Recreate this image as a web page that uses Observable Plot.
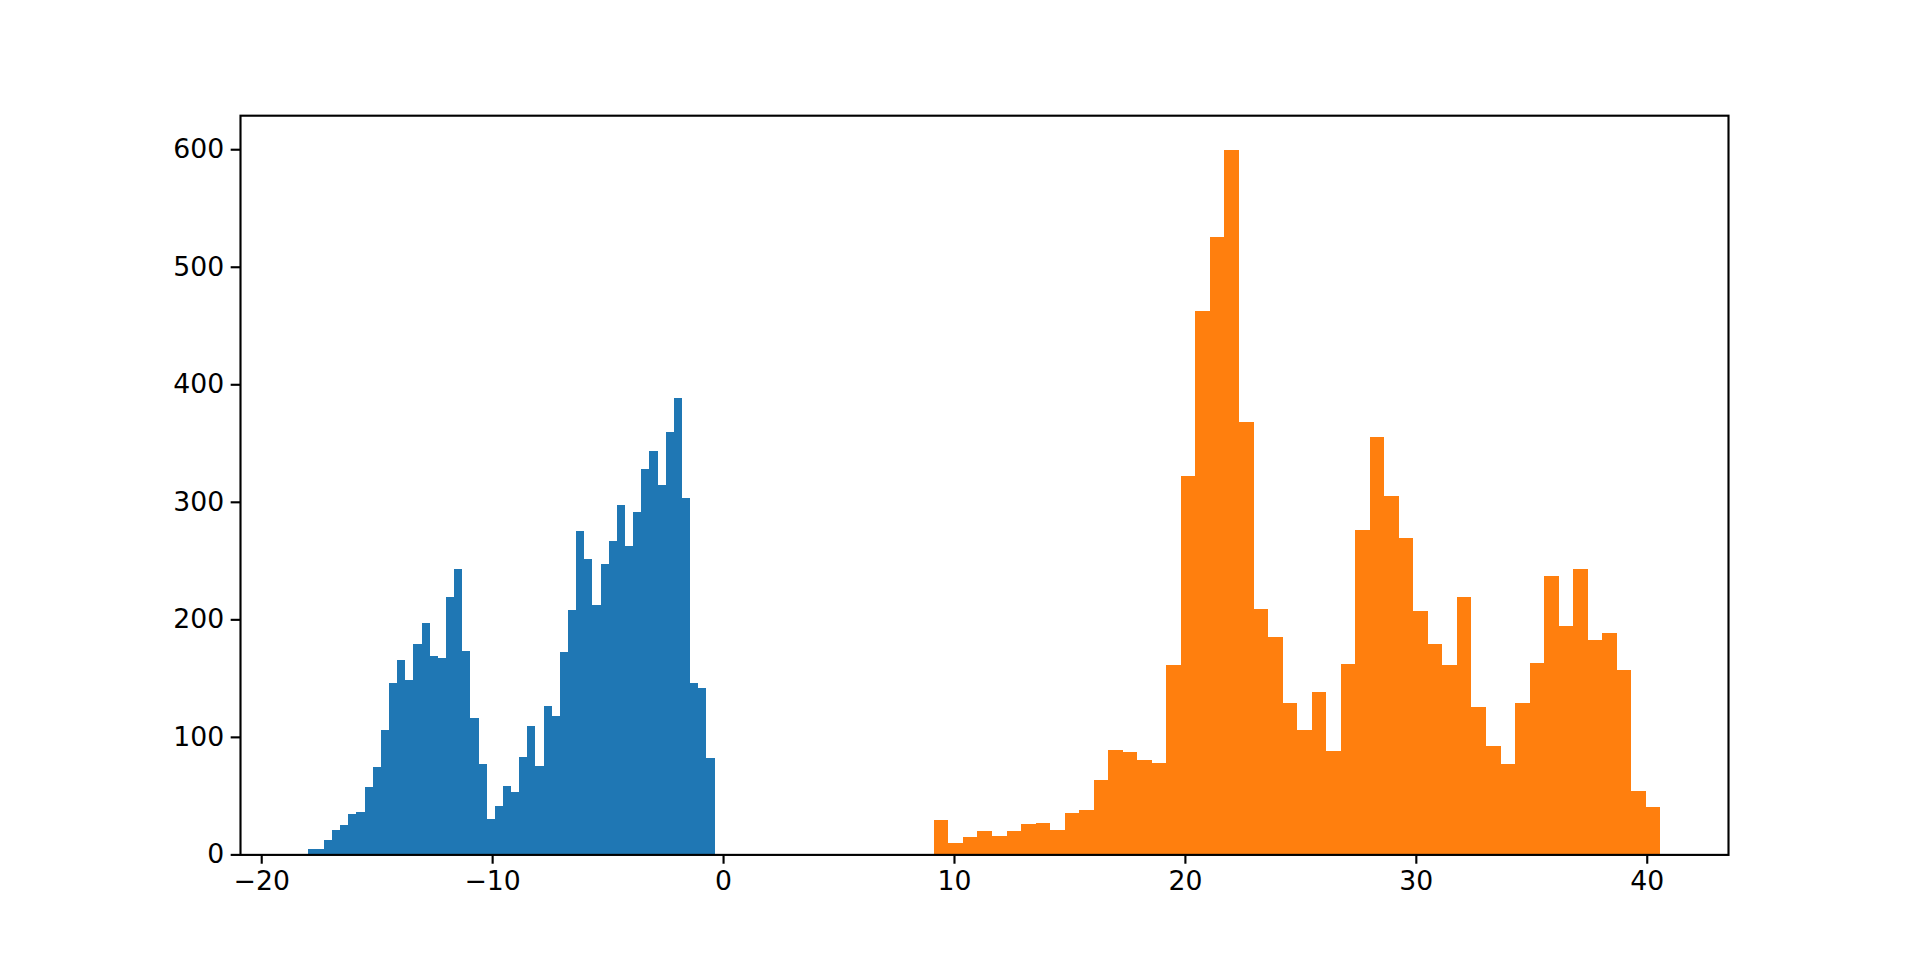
<!DOCTYPE html>
<html>
<head>
<meta charset="utf-8">
<script src="https://cdn.jsdelivr.net/npm/d3@7"></script>
<script src="https://cdn.jsdelivr.net/npm/@observablehq/plot@0.6"></script>
<style>
  html, body { margin: 0; padding: 0; background: #fff; }
  #chart svg { display: block; }
</style>
</head>
<body>
<div id="chart"></div>
<script>
// Histogram 1 (blue): 50 bins between these edges
const blueMin = -17.99;
const blueMax = -0.37;
const blueCounts = [
  5, 5, 12, 21, 25, 34, 36, 57, 74, 106,
  146, 165, 148, 179, 197, 169, 167, 219, 243, 173,
  116, 77, 30, 41, 58, 53, 83, 109, 75, 126,
  118, 172, 208, 275, 251, 212, 247, 267, 297, 262,
  291, 328, 343, 314, 359, 388, 303, 146, 142, 82
];
// Histogram 2 (orange): 50 bins between these edges
const orangeMin = 9.13;
const orangeMax = 40.59;
const orangeCounts = [
  29, 10, 15, 20, 16, 20, 26, 27, 21, 35,
  38, 63, 89, 87, 80, 78, 161, 322, 462, 525,
  599, 368, 209, 185, 129, 106, 138, 88, 162, 276,
  355, 305, 269, 207, 179, 161, 219, 125, 92, 77,
  129, 163, 237, 194, 243, 182, 188, 157, 54, 40
];
const xTicks = [-20, -10, 0, 10, 20, 30, 40];
const yTicks = [0, 100, 200, 300, 400, 500, 600];

function binsOf(counts, lo, hi, series) {
  const w = (hi - lo) / counts.length;
  return counts.map((c, i) => ({x1: lo + i * w, x2: lo + (i + 1) * w, count: c, series}));
}
const blueBins = binsOf(blueCounts, blueMin, blueMax, "a");
const orangeBins = binsOf(orangeCounts, orangeMin, orangeMax, "b");

const dataLo = Math.min(blueMin, orangeMin), dataHi = Math.max(blueMax, orangeMax);
const xm = (dataHi - dataLo) * 0.05;
const yMax = d3.max([...blueCounts, ...orangeCounts]) * 1.05;

const lw = 2.13;
const minusFmt = d => d < 0 ? "\u2212" + Math.abs(d) : String(d);

const chart = Plot.plot({
  width: 1920,
  height: 960,
  marginLeft: 240,
  marginRight: 192,
  marginTop: 115.2,
  marginBottom: 105.6,
  style: {fontFamily: "DejaVu Sans", fontSize: "26.67px", color: "#000", background: "#fff", overflow: "visible"},
  x: {domain: [dataLo - xm, dataHi + xm]},
  y: {domain: [0, yMax]},
  marks: [
    Plot.rectY(blueBins, {x1: "x1", x2: "x2", y: "count", fill: "#1f77b4", shapeRendering: "crispEdges"}),
    Plot.rectY(orangeBins, {x1: "x1", x2: "x2", y: "count", fill: "#ff7f0e", shapeRendering: "crispEdges"}),
    Plot.frame({stroke: "#000", strokeWidth: lw}),
    Plot.axisX({ticks: xTicks, tickFormat: minusFmt, tickSize: 9.33, tickPadding: 7, strokeWidth: lw, fontSize: 26.67, label: null, color: "#000"}),
    Plot.axisY({ticks: yTicks, tickFormat: minusFmt, tickSize: 9.33, tickPadding: 7, strokeWidth: lw, fontSize: 26.67, label: null, color: "#000"})
  ]
});
document.getElementById("chart").appendChild(chart);
</script>
</body>
</html>
